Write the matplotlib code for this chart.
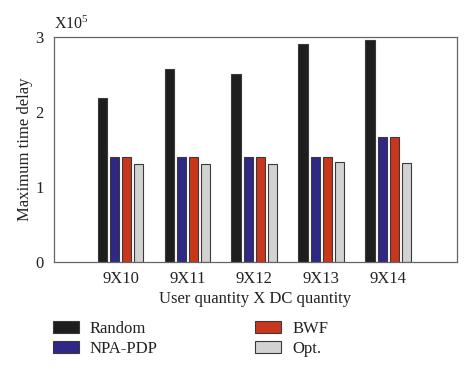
import matplotlib
matplotlib.use("Agg")
import matplotlib.pyplot as plt
import numpy as np

categories = ["9X10", "9X11", "9X12", "9X13", "9X14"]
series_names = ["Random", "NPA-PDP", "BWF", "Opt."]
random_vals = [2.19, 2.57, 2.51, 2.90, 2.96]
npa_vals = [1.40, 1.40, 1.40, 1.40, 1.66]
bwf_vals = [1.40, 1.40, 1.40, 1.40, 1.66]
opt_vals = [1.31, 1.31, 1.31, 1.34, 1.32]
colors = ["#1e1e1e", "#2f2887", "#c9361b", "#d2d2d2"]

plt.rcParams['font.family'] = ['Liberation Serif', 'DejaVu Serif']
plt.rcParams['mathtext.fontset'] = 'custom'
plt.rcParams['mathtext.rm'] = 'Liberation Serif'

fig = plt.figure(figsize=(4.74, 3.72), dpi=100)
ax = fig.add_axes([53.5/474, 1 - 262.3/372, (456.7-53.5)/474, (262.3-36.7)/372])

x = np.arange(len(categories))
width = 0.145
step = 0.18
data = [random_vals, npa_vals, bwf_vals, opt_vals]
handles = []
for i, (vals, name, c) in enumerate(zip(data, series_names, colors)):
    b = ax.bar(x + (i - 1.5) * step, vals, width, color=c, edgecolor="#3a3a3a",
               linewidth=0.8, label=name)
    handles.append(b)

ax.set_xlim(-1.0, 5.02)
ax.set_ylim(0, 3)
ax.set_yticks([0, 1, 2, 3])
ax.set_yticklabels(["0", "1", "2", "3"])
ax.set_xticks(x)
ax.set_xticklabels(categories)
ax.tick_params(length=0, labelsize=12, colors="#222222", pad=6)
ax.tick_params(axis='y', pad=7)
for s in ax.spines.values():
    s.set_color("#666666")
    s.set_linewidth(0.9)

ax.set_xlabel("User quantity X DC quantity", fontsize=12, color="#222222", labelpad=3)
ax.set_ylabel("Maximum time delay", fontsize=12, color="#222222", labelpad=2)
ax.text(0.0, 1.015, r"X10$\mathrm{^5}$", transform=ax.transAxes, fontsize=11.5,
        color="#222222", ha="left", va="bottom")

# legend
leg = fig.legend(handles, series_names, ncol=2, loc="upper left",
                 bbox_to_anchor=(53/474, 1 - 321/372), frameon=False,
                 fontsize=12, handlelength=1.56, handleheight=0.72,
                 columnspacing=5.85, handletextpad=0.65, labelspacing=0.25,
                 borderpad=0, borderaxespad=0)
for t in leg.get_texts():
    t.set_color("#222222")

fig.savefig("out.png", dpi=100)
